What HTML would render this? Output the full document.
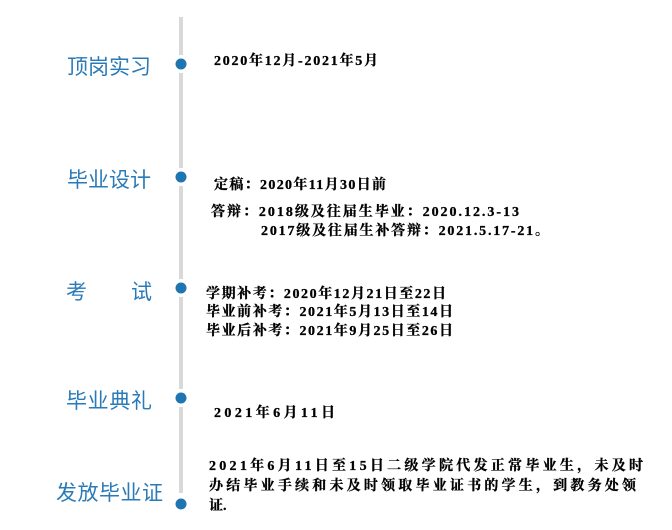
<!DOCTYPE html>
<html><head><meta charset="utf-8"><style>
html,body{margin:0;padding:0;background:#fff;}
svg{display:block;}
.l{font-family:"Liberation Sans","Noto Sans CJK SC",sans-serif;font-size:21px;fill:#2a7ab8;}
.t{font-family:"Liberation Serif","Noto Serif CJK SC",serif;font-size:14px;font-weight:bold;fill:#000;stroke:#000;stroke-width:0.3;}
</style></head><body>
<svg width="672" height="530" viewBox="0 0 672 530" xmlns="http://www.w3.org/2000/svg">
<g stroke="#d9d9d9" stroke-width="4">
<line x1="181" y1="17" x2="181" y2="55"/>
<line x1="181" y1="73" x2="181" y2="168"/>
<line x1="181" y1="186" x2="181" y2="279"/>
<line x1="181" y1="297" x2="181" y2="389"/>
<line x1="181" y1="407" x2="181" y2="493"/>
</g>
<g fill="#1f74b2">
<circle cx="181" cy="64" r="5.5"/>
<circle cx="181" cy="177" r="5.5"/>
<circle cx="181" cy="288" r="5.5"/>
<circle cx="181" cy="398" r="5.5"/>
<circle cx="181" cy="504" r="5.5"/>
</g>
<text class="l" x="67" y="74" textLength="84" lengthAdjust="spacing">顶岗实习</text>
<text class="l" x="67" y="187" textLength="84" lengthAdjust="spacing">毕业设计</text>
<text class="l" x="66" y="299">考</text>
<text class="l" x="131" y="299">试</text>
<text class="l" x="66" y="408" textLength="86" lengthAdjust="spacing">毕业典礼</text>
<text class="l" x="56" y="500" textLength="107" lengthAdjust="spacing">发放毕业证</text>

<text class="t" x="214" y="65" textLength="164" lengthAdjust="spacing">2020年12月-2021年5月</text>
<text class="t" x="214" y="189" textLength="172" lengthAdjust="spacing">定稿：2020年11月30日前</text>
<text class="t" x="211" y="216" textLength="308" lengthAdjust="spacing">答辩：2018级及往届生毕业：2020.12.3-13</text>
<text class="t" x="261" y="235" textLength="288" lengthAdjust="spacing">2017级及往届生补答辩：2021.5.17-21。</text>
<text class="t" x="206" y="298" textLength="240" lengthAdjust="spacing">学期补考：2020年12月21日至22日</text>
<text class="t" x="206" y="316" textLength="247" lengthAdjust="spacing">毕业前补考：2021年5月13日至14日</text>
<text class="t" x="206" y="335" textLength="247" lengthAdjust="spacing">毕业后补考：2021年9月25日至26日</text>
<text class="t" x="214" y="417" textLength="121" lengthAdjust="spacing">2021年6月11日</text>
<text class="t" x="209" y="470" textLength="434" lengthAdjust="spacing">2021年6月11日至15日二级学院代发正常毕业生，未及时</text>
<text class="t" x="209" y="490" textLength="427" lengthAdjust="spacing">办结毕业手续和未及时领取毕业证书的学生，到教务处领</text>
<text class="t" x="209" y="510">证.</text>
</svg>
</body></html>
